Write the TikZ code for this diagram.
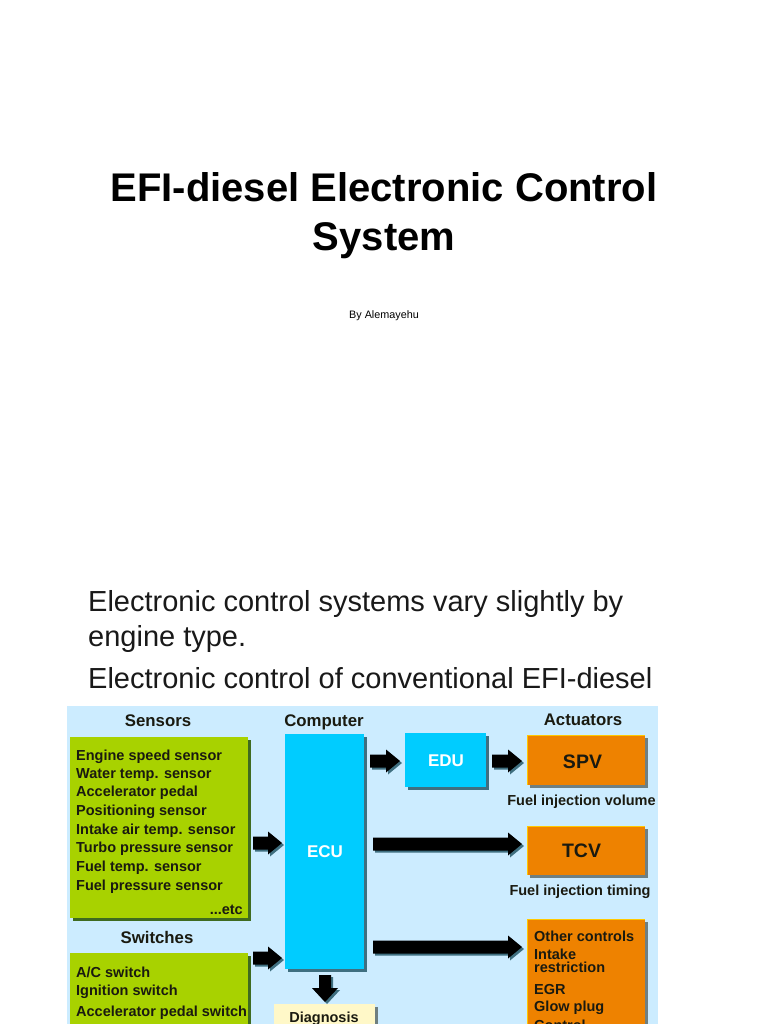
\documentclass[tikz,border=0pt]{standalone}
\usepackage{fontspec}
\setmainfont{Liberation Sans}
\definecolor{panel}{HTML}{CCECFF}
\definecolor{grn}{HTML}{A8D200}
\definecolor{grnsh}{HTML}{3F6B20}
\definecolor{cyn}{HTML}{00CCFF}
\definecolor{org}{HTML}{EE8200}
\definecolor{ylw}{HTML}{FFF8C8}
\definecolor{shd}{HTML}{3F6F80}
\definecolor{orgsh}{HTML}{6F7F80}
\definecolor{ylwedge}{HTML}{FFC800}
\definecolor{ink}{HTML}{1A1A10}
\tikzset{
 px/.style={x=1pt,y=-1pt},
 ttl/.style={inner sep=0pt,anchor=base,font=\fontsize{16.8}{19}\selectfont\bfseries,text=ink},
 lst/.style={inner sep=0pt,anchor=base west,font=\fontsize{14.5}{16}\selectfont\bfseries,text=ink},
 captext/.style={inner sep=0pt,anchor=base,font=\fontsize{14.5}{16}\selectfont\bfseries,text=ink},
 bigtext/.style={inner sep=0pt,anchor=base,font=\fontsize{19.5}{22}\selectfont\bfseries,text=ink},
 wht/.style={inner sep=0pt,anchor=base,font=\fontsize{17}{19}\selectfont\bfseries,text=white},
 bodytext/.style={inner sep=0pt,anchor=base west,font=\fontsize{29}{33}\selectfont,text=black!90},
 headline/.style={inner sep=0pt,anchor=base,font=\fontsize{40}{46}\selectfont\bfseries},
}
\newcommand{\bx}[7]{% name x y w h colour shadow
  \fill[#7] (#2+2.5,#3+2.5) rectangle (#2+#4+2.5,#3+#5+2.5);
  \fill[#6] (#2,#3) rectangle (#2+#4,#3+#5);
  \coordinate (#1) at (#2+#4/2,#3+#5/2);
}
\newcommand{\thickarrow}[3]{% x1 x2 y
  \foreach \c/\o in {shd/2,black/0}{
  \fill[\c] (#1+\o,#3-6.5+\o) -- (#2-14+\o,#3-6.5+\o) -- (#2-14+\o,#3-11.5+\o) -- (#2+\o,#3+\o) -- (#2-14+\o,#3+11.5+\o) -- (#2-14+\o,#3+6.5+\o) -- (#1+\o,#3+6.5+\o) -- cycle;}
}
\begin{document}
\begin{tikzpicture}[px]
\useasboundingbox (0,0) rectangle (768,1024);
\fill[white] (0,0) rectangle (768,1024);
\node[headline] (t1) at (384,202) {EFI-diesel Electronic Control};
\node[headline] (t2) at (384,251) {System};
\node[inner sep=0pt,anchor=base,font=\fontsize{10.8}{12}\selectfont] (by) at (384,318) {By Alemayehu};
\node[bodytext] (b1) at (88,611) {Electronic control systems vary slightly by};
\node[bodytext] (b2) at (88,646) {engine type.};
\node[bodytext] (b3) at (88,688) {Electronic control of conventional EFI-diesel};
\begin{scope}
\clip (0,0) rectangle (768,1024);
\fill[panel] (67,706) rectangle (658,1030);
\bx{sens}{70}{737}{178}{181}{grn}{grnsh}
\bx{swit}{70}{953}{178}{90}{grn}{grnsh}
\bx{ecu}{285}{734}{79}{235}{cyn}{shd}
\bx{edu}{405}{733}{81}{54}{cyn}{shd}
\bx{spv}{527}{735}{118}{50}{org}{orgsh}
\bx{tcv}{527}{826}{118}{49}{org}{orgsh}
\bx{oth}{527}{919}{118}{130}{org}{orgsh}
\bx{dia}{274}{1004}{101}{40}{ylw}{orgsh}
\draw[ylwedge,line width=0.8pt] (527,785) -- (527,735) -- (645,735);
\draw[ylwedge,line width=0.8pt] (527,875) -- (527,826) -- (645,826);
\draw[ylwedge,line width=0.8pt] (527,1030) -- (527,919) -- (645,919);
\thickarrow{253}{282}{843}
\thickarrow{253}{282}{958}
\thickarrow{370}{400}{761}
\thickarrow{492}{522}{761}
\thickarrow{373}{522}{844}
\thickarrow{373}{522}{947}
\foreach \c/\o in {shd/2,black/0}{
\fill[\c] (319+\o,975+\o) -- (331+\o,975+\o) -- (331+\o,988+\o) -- (338+\o,988+\o) -- (325+\o,1002+\o) -- (312+\o,988+\o) -- (319+\o,988+\o) -- cycle;}
\node[ttl] (s) at (158,726) {Sensors};
\node[ttl] (c) at (324,726) {Computer};
\node[ttl] (a) at (583,725) {Actuators};
\node[ttl] (w) at (157,943) {Switches};
\node[lst] (l1) at (76,760.7) {Engine speed sensor};
\node[lst] (l2) at (76,778) {Water temp. sensor};
\node[lst] (l3) at (76,796.5) {Accelerator pedal};
\node[lst] (l4) at (76,815.5) {Positioning sensor};
\node[lst] (l5) at (76,834) {Intake air temp. sensor};
\node[lst] (l6) at (76,852) {Turbo pressure sensor};
\node[lst] (l7) at (76,871) {Fuel temp. sensor};
\node[lst] (l8) at (76,890.5) {Fuel pressure sensor};
\node[lst,anchor=base east] (l9) at (243,914) {...etc};
\node[lst] (k1) at (76,977.7) {A/C switch};
\node[lst] (k2) at (76,995.7) {Ignition switch};
\node[lst] (k3) at (76,1016.7) {Accelerator pedal switch};
\node[lst] (k4) at (76,1035.5) {Diagnosis switch};
\node[wht] (ecut) at (325,857.7) {ECU};
\node[wht] (edut) at (446,766.7) {EDU};
\node[bigtext] (spvt) at (582.5,768) {SPV};
\node[bigtext] (tcvt) at (581.5,857.7) {TCV};
\node[captext] (c1) at (581.5,805) {Fuel injection volume};
\node[captext] (c2) at (580,895) {Fuel injection timing};
\node[lst] (o1) at (534,941) {Other controls};
\node[lst] (o2) at (534,959) {Intake};
\node[lst] (o3) at (534,972.7) {restriction};
\node[lst] (o4) at (534,994) {EGR};
\node[lst] (o5) at (534,1011.3) {Glow plug};
\node[lst] (o6) at (534,1030) {Control};
\node[captext] (dt) at (324,1022.7) {Diagnosis};
\end{scope}
\end{tikzpicture}
\end{document}
